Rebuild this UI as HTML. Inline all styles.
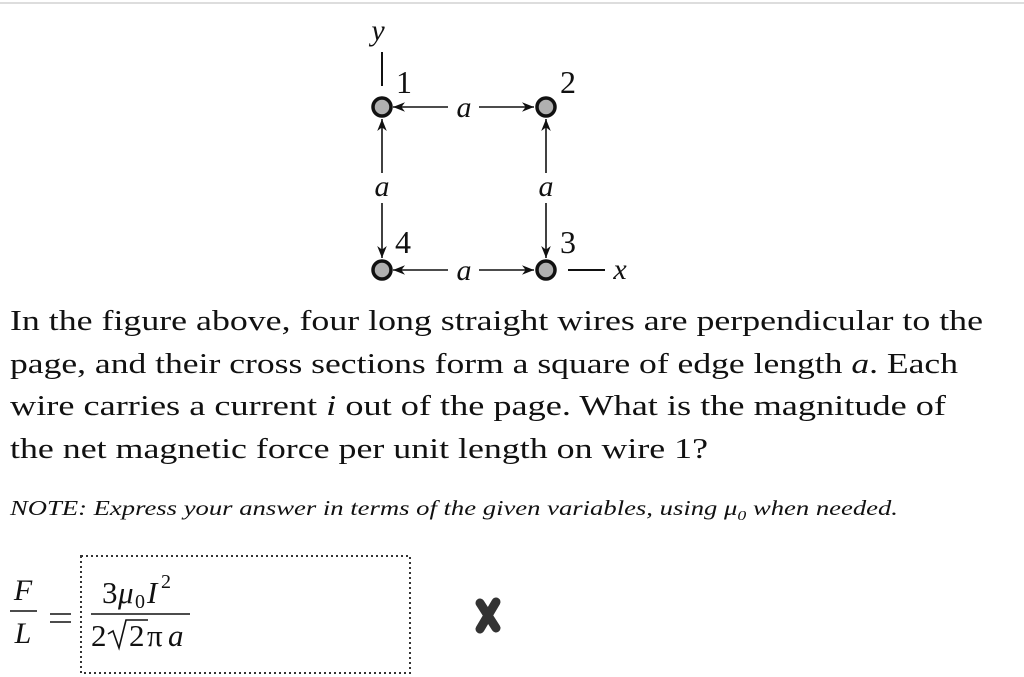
<!DOCTYPE html>
<html><head><style>
html,body{margin:0;padding:0;background:#fff;width:1024px;height:677px;overflow:hidden}
svg{display:block}
text{font-family:"Liberation Serif",serif;fill:#111}
</style></head><body>
<svg width="1024" height="677" viewBox="0 0 1024 677" xmlns="http://www.w3.org/2000/svg">
<defs>
<marker id="ah" viewBox="0 0 10 10" refX="10" refY="5" markerWidth="12" markerHeight="12" orient="auto-start-reverse" markerUnits="userSpaceOnUse">
<path d="M0,1 L10,5 L0,9 L3,5 z" fill="#111"/></marker>
</defs>
<line x1="0" y1="3" x2="1024" y2="3" stroke="#ddd" stroke-width="2"/>
<text x="378" y="40" font-size="30" font-style="italic" text-anchor="middle">y</text>
<line x1="382" y1="52" x2="382" y2="86" stroke="#111" stroke-width="2"/>
<line x1="568" y1="270" x2="605" y2="270" stroke="#111" stroke-width="2"/>
<text x="620" y="279" font-size="30" font-style="italic" text-anchor="middle">x</text>
<g stroke="#111" stroke-width="1.6" fill="none">
<line x1="393" y1="107" x2="448" y2="107" marker-start="url(#ah)"/>
<line x1="479" y1="107" x2="534" y2="107" marker-end="url(#ah)"/>
<line x1="393" y1="270" x2="448" y2="270" marker-start="url(#ah)"/>
<line x1="479" y1="270" x2="534" y2="270" marker-end="url(#ah)"/>
<line x1="382" y1="119" x2="382" y2="173" marker-start="url(#ah)"/>
<line x1="382" y1="203" x2="382" y2="258" marker-end="url(#ah)"/>
<line x1="546" y1="119" x2="546" y2="173" marker-start="url(#ah)"/>
<line x1="546" y1="203" x2="546" y2="258" marker-end="url(#ah)"/>
</g>
<g font-size="30" font-style="italic" text-anchor="middle">
<text x="464" y="117">a</text><text x="464" y="280">a</text>
<text x="382" y="196">a</text><text x="546" y="196">a</text>
</g>
<g fill="#b0b0b0" stroke="#111" stroke-width="3.5">
<circle cx="382" cy="107" r="9"/><circle cx="546" cy="107" r="9"/>
<circle cx="382" cy="270" r="9"/><circle cx="546" cy="270" r="9"/>
</g>
<g font-size="32">
<text x="396" y="93">1</text><text x="560" y="93">2</text>
<text x="395" y="253">4</text><text x="560" y="253">3</text>
</g>
<g font-size="29">
<text x="10" y="330" textLength="973" lengthAdjust="spacingAndGlyphs">In the figure above, four long straight wires are perpendicular to the</text>
<text x="10" y="373" textLength="948" lengthAdjust="spacingAndGlyphs">page, and their cross sections form a square of edge length <tspan font-style="italic">a</tspan>. Each</text>
<text x="10" y="415" textLength="936" lengthAdjust="spacingAndGlyphs">wire carries a current <tspan font-style="italic">i</tspan> out of the page. What is the magnitude of</text>
<text x="10" y="458" textLength="698" lengthAdjust="spacingAndGlyphs">the net magnetic force per unit length on wire 1?</text>
</g>
<text x="10" y="515" font-size="21" font-style="italic" textLength="888" lengthAdjust="spacingAndGlyphs">NOTE: Express your answer in terms of the given variables, using μ<tspan font-size="14" dy="5">0</tspan><tspan dy="-5"> when needed.</tspan></text>
<text x="23" y="600" font-size="30" font-style="italic" text-anchor="middle">F</text>
<line x1="10" y1="611" x2="37" y2="611" stroke="#111" stroke-width="1.5"/>
<text x="23" y="643" font-size="30" font-style="italic" text-anchor="middle">L</text>
<line x1="50" y1="614" x2="71" y2="614" stroke="#111" stroke-width="1.5"/>
<line x1="50" y1="622" x2="71" y2="622" stroke="#111" stroke-width="1.5"/>
<rect x="81" y="556" width="329" height="117" fill="none" stroke="#333" stroke-width="2" stroke-dasharray="2,3"/>
<text x="102" y="603" font-size="31">3</text>
<text x="118" y="603" font-size="31" font-style="italic">μ</text>
<text x="135" y="608" font-size="20">0</text>
<text x="147" y="603" font-size="31" font-style="italic">I</text>
<text x="161" y="588" font-size="20">2</text>
<line x1="91" y1="614" x2="190" y2="614" stroke="#111" stroke-width="1.5"/>
<text x="91" y="646" font-size="31">2</text>
<path d="M108,634 L113,631 L119,648 L126,620 L148,620" fill="none" stroke="#111" stroke-width="1.6"/>
<text x="129" y="646" font-size="31">2</text>
<text x="147" y="646" font-size="31">π</text>
<text x="168" y="646" font-size="31" font-style="italic">a</text>
<path d="M480,603 L496,628 M496,602 L480,629" stroke="#333" stroke-width="9" stroke-linecap="round"/>
</svg>
</body></html>
